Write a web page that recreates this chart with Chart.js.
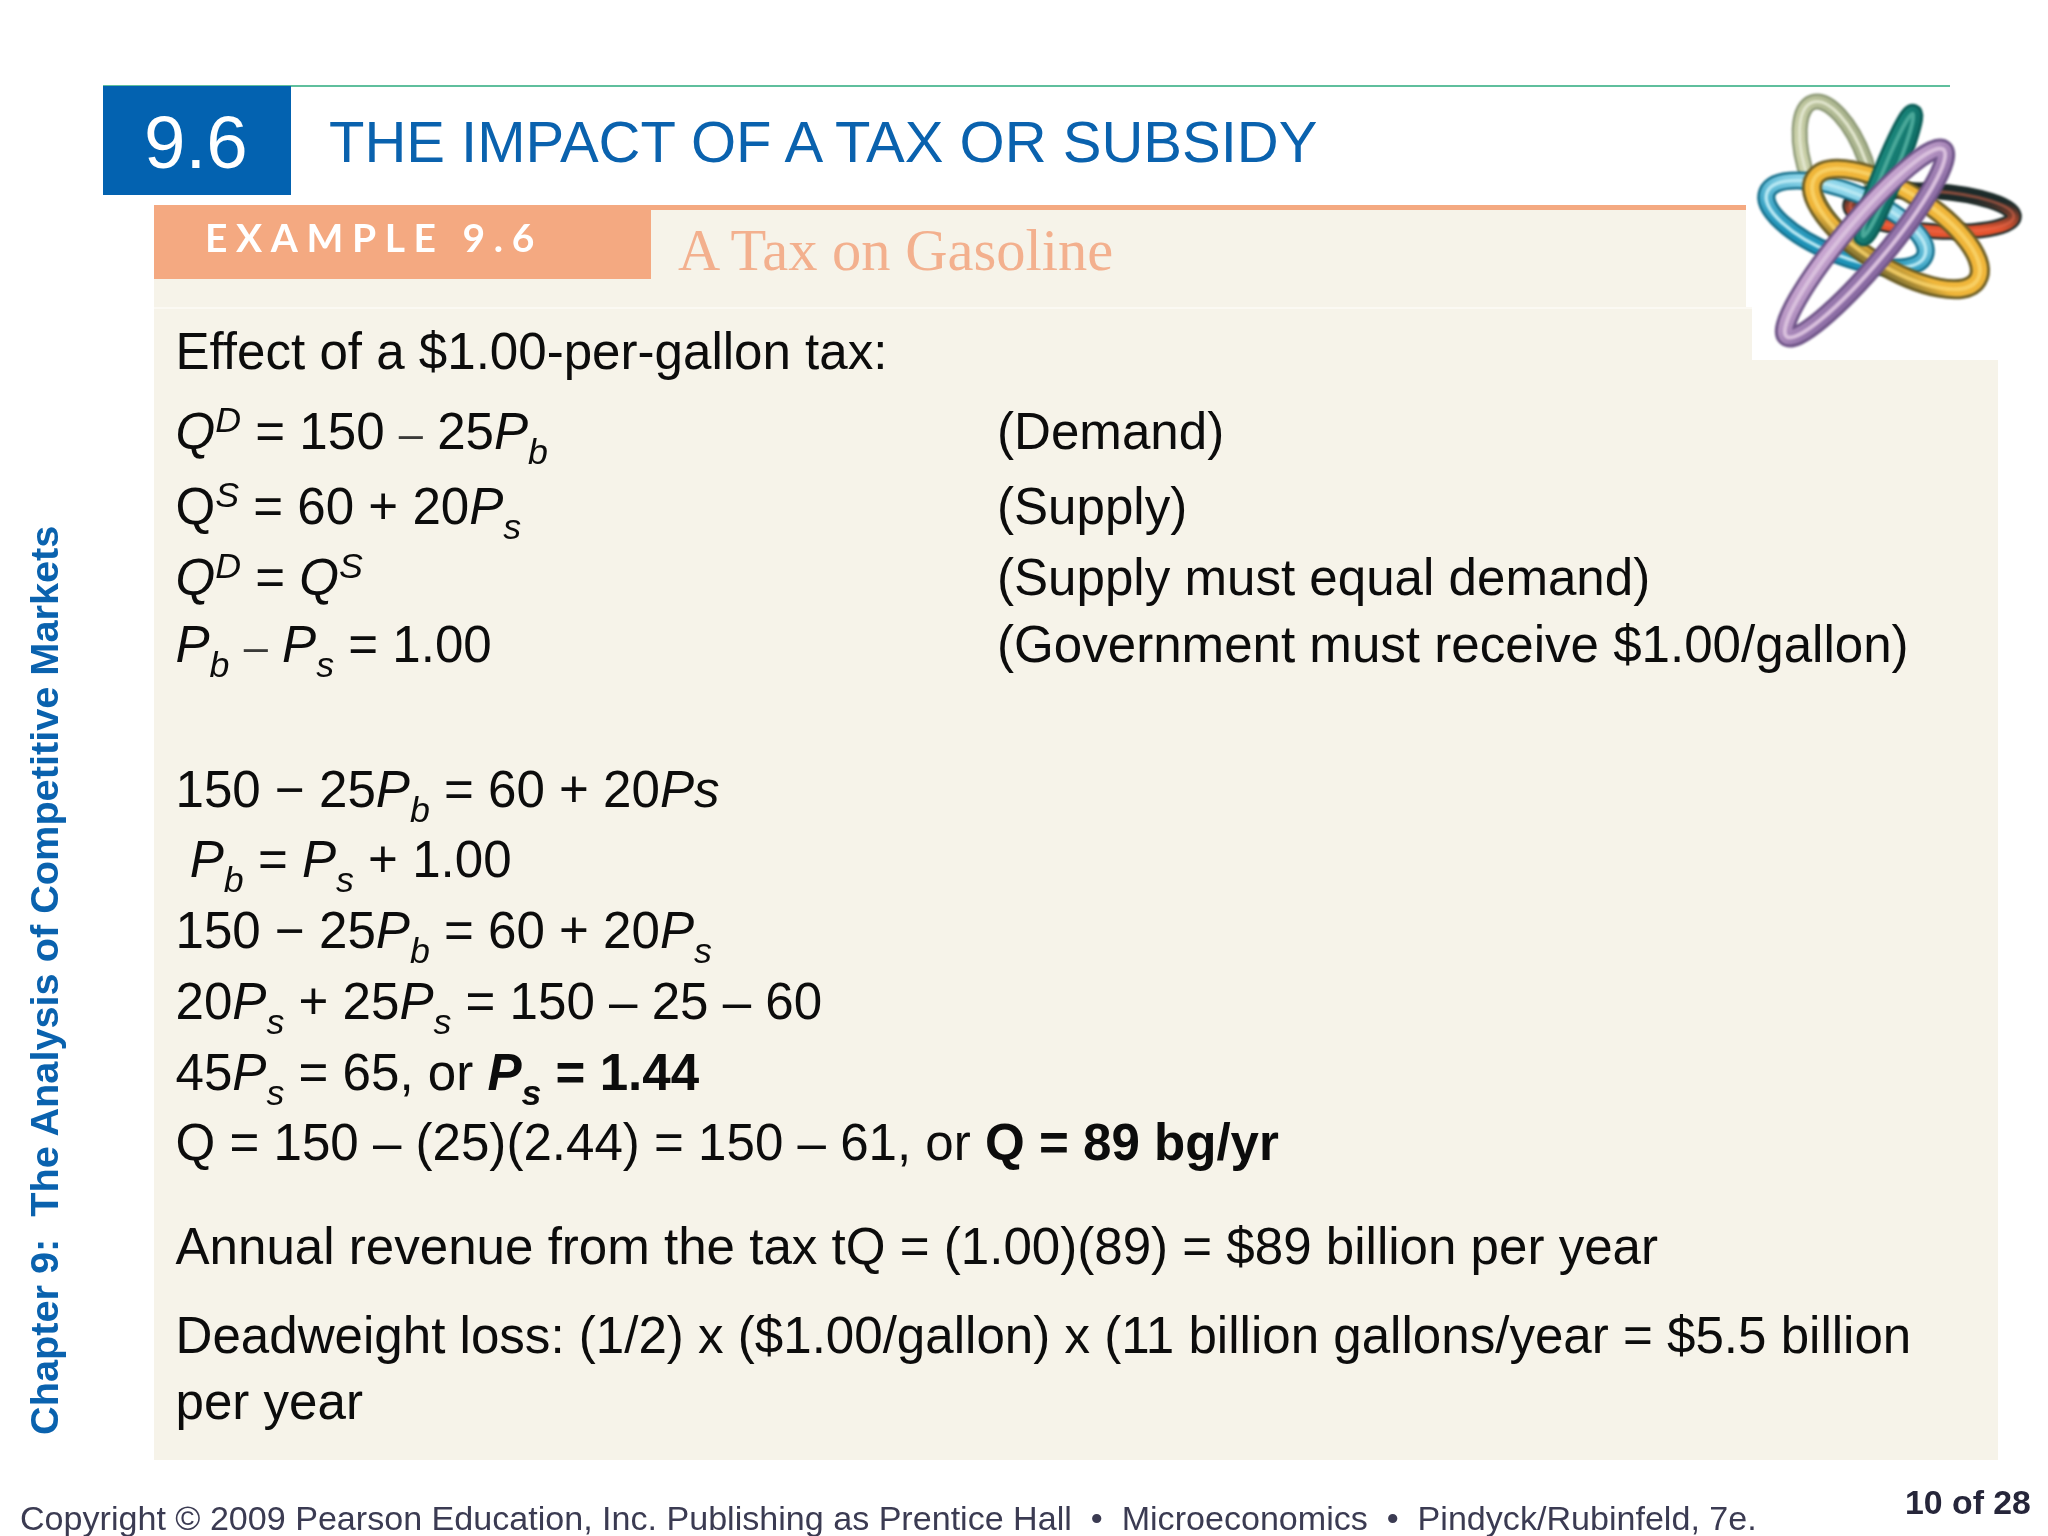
<!DOCTYPE html>
<html>
<head>
<meta charset="utf-8">
<title>The Impact of a Tax or Subsidy</title>
<script src="https://cdn.jsdelivr.net/npm/chart.js@4/dist/chart.umd.min.js"></script>
<style>
html, body { margin: 0; padding: 0; background: #fff; }
#slide { position: relative; width: 2048px; height: 1536px; overflow: hidden; font-family: "Liberation Sans", Arial, sans-serif; }
canvas { position: absolute; left: 0; top: 0; }
.t { position: absolute; white-space: nowrap; line-height: 1; color: #0c0c0c; }
sup, sub { position: relative; font-size: 0.7em; line-height: 0; font-style: italic; vertical-align: baseline; }
sup { top: -0.46em; }
sub { top: 0.42em; }
.dash { font-size: 0.85em; font-weight: normal; position: relative; top: -0.02em; opacity: 0.8; }
</style>
</head>
<body>
<div id="slide">
  <canvas id="slideCanvas" width="2048" height="1536"></canvas>
</div>
<script>
// slide text, there is no plotted data in this picture
const sectionNumber = '9.6';
const sectionTitle = 'THE IMPACT OF A TAX OR SUBSIDY';
const exampleLabel = 'EXAMPLE 9.6';
const exampleTitle = 'A Tax on Gasoline';
const sideLabel = 'Chapter 9:\u00a0\u00a0The Analysis of Competitive Markets';
const footerText = 'Copyright © 2009 Pearson Education, Inc. Publishing as Prentice Hall \u00a0•\u00a0 Microeconomics \u00a0•\u00a0 Pindyck/Rubinfeld, 7e.';
const pageLabel = '10 of 28';

const leftLines = [
    'Effect of a $1.00-per-gallon tax:',
    '<i>Q</i><sup>D</sup> = 150 <span class="dash">–</span> 25<i>P</i><sub>b</sub>',
    'Q<sup>S</sup> = 60 + 20<i>P</i><sub>s</sub>',
    '<i>Q</i><sup>D</sup> = <i>Q</i><sup>S</sup>',
    '<i>P</i><sub>b</sub> <span class="dash">–</span> <i>P</i><sub>s</sub> = 1.00',
    '150 − 25<i>P</i><sub>b</sub> = 60 + 20<i>Ps</i>',
    '\u00a0<i>P</i><sub>b</sub> = <i>P</i><sub>s</sub> + 1.00',
    '150 − 25<i>P</i><sub>b</sub> = 60 + 20<i>P</i><sub>s</sub>',
    '20<i>P</i><sub>s</sub> + 25<i>P</i><sub>s</sub> = 150 – 25 – 60',
    '45<i>P</i><sub>s</sub> = 65, or <b><i>P</i><sub>s</sub> = 1.44</b>',
    'Q = 150 – (25)(2.44) = 150 – 61, or <b>Q = 89 bg/yr</b>',
    'Annual revenue from the tax tQ = (1.00)(89) = $89 billion per year',
    'Deadweight loss: (1/2) x ($1.00/gallon) x (11 billion gallons/year = $5.5 billion',
    'per year'
];
const rightLines = [
    '(Demand)',
    '(Supply)',
    '(Supply must equal demand)',
    '(Government must receive $1.00/gallon)'
];

const leftBaselines = [369, 449, 524, 595, 662, 807, 877, 948, 1019, 1090, 1160, 1264, 1353, 1419];
const rightBaselines = [449, 524, 595, 662];

const slide = document.getElementById('slide');

function addText(html, x, baseline, size, css) {
    const el = document.createElement('div');
    el.className = 't';
    el.innerHTML = html;
    el.style.left = x + 'px';
    el.style.top = (baseline - 0.8465 * size) + 'px';
    el.style.fontSize = size + 'px';
    Object.assign(el.style, css || {});
    slide.appendChild(el);
    return el;
}

leftLines.forEach((line, i) => addText(line, 175.5, leftBaselines[i], 51.1));
rightLines.forEach((line, i) => addText(line, 997, rightBaselines[i], 51.1));

addText(sectionNumber, 144, 169, 74.5, { color: '#fff' });
addText(sectionTitle, 329, 162, 58, { color: '#0a62ae' });
addText(exampleLabel, 205, 251, 39, { color: '#fff', fontWeight: 'bold', fontFamily: 'Lato', letterSpacing: '8.6px' });
addText(exampleTitle, 678, 272, 58.5, { color: '#f3b08e', fontFamily: '"Liberation Serif", serif' });
addText(footerText, 20, 1530, 34.1, { color: '#3b3b52' });
addText(pageLabel, 1905, 1515, 33.8, { color: '#26263a', fontWeight: 'bold' });

const side = addText(sideLabel, 0, 0, 39.7, { color: '#0a62ae', fontWeight: 'bold', transformOrigin: '0 0' });
side.style.left = '25px';
side.style.top = '1435px';
side.style.transform = 'rotate(-90deg)';

// ring shaded across its short axis, from colour a to colour b between two stops
function drawRing(ctx, cx, cy, rx, ry, angle, width, a, b, edge, light, stopA, stopB) {
    ctx.save();
    ctx.translate(cx, cy);
    ctx.rotate(angle * Math.PI / 180);
    const shade = ctx.createLinearGradient(0, -ry - width, 0, ry + width);
    shade.addColorStop(stopA, a);
    shade.addColorStop(stopB, b);
    ctx.beginPath();
    ctx.ellipse(0, 0, rx, ry, 0, 0, Math.PI * 2);
    ctx.strokeStyle = edge;
    ctx.lineWidth = width;
    ctx.stroke();
    ctx.strokeStyle = shade;
    ctx.lineWidth = width * 0.72;
    ctx.stroke();
    ctx.strokeStyle = light;
    ctx.lineWidth = width * 0.2;
    ctx.stroke();
    ctx.restore();
}

// panels and the ring logo go behind the text
const slideBackground = {
    id: 'slideBackground',
    beforeDraw(chart) {
        const ctx = chart.ctx;
        ctx.save();
        ctx.fillStyle = '#fff';
        ctx.fillRect(0, 0, 2048, 1536);

        ctx.fillStyle = '#f6f3e9';
        ctx.fillRect(154, 209, 1592, 100);
        ctx.fillRect(154, 309, 1598, 52);
        ctx.fillRect(154, 360, 1844, 1100);
        ctx.fillStyle = '#fbf9f3';
        ctx.fillRect(154, 307, 1598, 2);

        ctx.fillStyle = '#f4a981';
        ctx.fillRect(154, 205, 1592, 5);
        ctx.fillRect(154, 205, 497, 74);

        ctx.fillStyle = '#5fbf9d';
        ctx.fillRect(103, 85, 1847, 2);
        ctx.fillStyle = '#0362b0';
        ctx.fillRect(103, 86, 188, 109);

        ctx.filter = 'blur(1.2px)';
        drawRing(ctx, 1837, 170, 72, 30, 70, 16, '#aab48e', '#c9cfa8', '#8e9a78', '#e2e6ce', 0.2, 0.8);
        drawRing(ctx, 1932, 211, 82, 20, 4, 16, '#1c2a2a', '#e5532f', '#1f2e2c', 'rgba(240,110,80,0.5)', 0.3, 0.7);
        drawRing(ctx, 1846, 224, 85, 32, 22, 18, '#8fd6ea', '#1f93b8', '#17708c', '#b8e8f3', 0.2, 0.8);
        drawRing(ctx, 1896, 229, 96, 38, 32, 20, '#f0b63a', '#4a5230', '#6a5c24', 'rgba(250,214,110,0.8)', 0.72, 0.98);
        drawRing(ctx, 1888, 175, 66, 6, -68, 20, '#1c8a7e', '#0f6c64', '#0c5e58', '#4aa899', 0.2, 0.8);
        drawRing(ctx, 1865, 243, 122, 22, -50, 20, '#c8a6d0', '#8a6ba3', '#6f5588', '#d9c0dd', 0.2, 0.8);
        ctx.restore();
    }
};

new Chart(document.getElementById('slideCanvas').getContext('2d'), {
    type: 'scatter',
    data: { datasets: [] },
    options: {
        responsive: false,
        animation: false,
        devicePixelRatio: 1,
        plugins: { legend: { display: false }, title: { display: false }, tooltip: { enabled: false } },
        scales: { x: { display: false }, y: { display: false } }
    },
    plugins: [slideBackground]
});
</script>
</body>
</html>
